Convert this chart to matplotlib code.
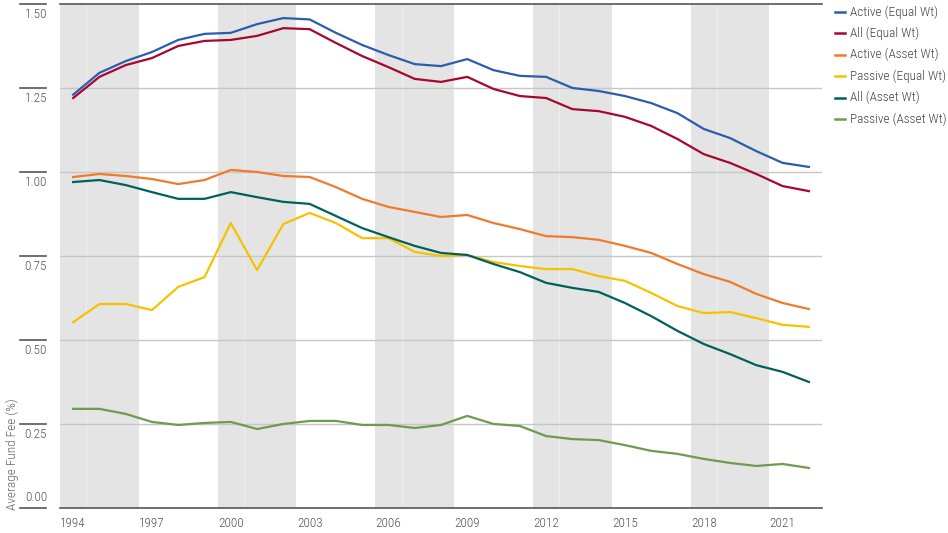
import matplotlib
matplotlib.use("Agg")
import matplotlib.pyplot as plt
from matplotlib.lines import Line2D
from matplotlib.transforms import blended_transform_factory
from matplotlib import font_manager as fm

# pick a condensed font if one is available
FONT = {"family": "Roboto", "stretch": "normal"}
SCALE = 0.9
for fam in ["Roboto Condensed", "Liberation Sans Narrow", "Open Sans Condensed", "DejaVu Sans"]:
    try:
        p = fm.findfont(fm.FontProperties(family=fam, stretch="condensed"), fallback_to_default=False)
        if "ondensed" in p or "Narrow" in p:
            FONT = {"family": fam, "stretch": "condensed"}
            SCALE = 1.0
            break
    except Exception:
        pass

plt.rcParams['font.family'] = [FONT["family"], 'DejaVu Sans']
plt.rcParams['font.stretch'] = FONT["stretch"]
plt.rcParams['font.weight'] = 'light'

years = list(range(1994, 2023))

active_equal = [1.231, 1.296, 1.331, 1.358, 1.394, 1.412, 1.415, 1.441, 1.459, 1.455,
                1.415, 1.379, 1.349, 1.322, 1.316, 1.337, 1.304, 1.287, 1.284, 1.251,
                1.242, 1.227, 1.206, 1.176, 1.129, 1.102, 1.063, 1.028, 1.016]
all_equal = [1.221, 1.284, 1.319, 1.340, 1.376, 1.391, 1.394, 1.406, 1.429, 1.426,
             1.385, 1.346, 1.313, 1.278, 1.269, 1.284, 1.248, 1.227, 1.221, 1.188,
             1.182, 1.165, 1.138, 1.099, 1.054, 1.028, 0.995, 0.959, 0.944]
active_asset = [0.986, 0.995, 0.989, 0.980, 0.965, 0.977, 1.007, 1.001, 0.989, 0.986,
                0.956, 0.921, 0.897, 0.882, 0.867, 0.873, 0.849, 0.831, 0.810, 0.807,
                0.799, 0.781, 0.760, 0.727, 0.697, 0.674, 0.638, 0.611, 0.593]
passive_equal = [0.554, 0.608, 0.608, 0.590, 0.659, 0.688, 0.849, 0.709, 0.846, 0.879,
                 0.849, 0.804, 0.804, 0.763, 0.751, 0.754, 0.733, 0.721, 0.712, 0.712,
                 0.691, 0.677, 0.641, 0.602, 0.581, 0.584, 0.566, 0.546, 0.540]
all_asset = [0.971, 0.977, 0.962, 0.941, 0.921, 0.921, 0.941, 0.926, 0.912, 0.906,
             0.870, 0.834, 0.807, 0.781, 0.760, 0.754, 0.727, 0.703, 0.671, 0.656,
             0.644, 0.611, 0.572, 0.528, 0.489, 0.459, 0.426, 0.406, 0.376]
passive_asset = [0.296, 0.296, 0.281, 0.257, 0.248, 0.254, 0.257, 0.236, 0.251, 0.260,
                 0.260, 0.248, 0.248, 0.239, 0.248, 0.275, 0.251, 0.245, 0.215, 0.206,
                 0.203, 0.188, 0.171, 0.162, 0.147, 0.135, 0.126, 0.132, 0.120]

series_names = ["Active (Equal Wt)", "All (Equal Wt)", "Active (Asset Wt)",
                "Passive (Equal Wt)", "All (Asset Wt)", "Passive (Asset Wt)"]
series_values = [active_equal, all_equal, active_asset, passive_equal, all_asset, passive_asset]
colors = ["#2A5DAA", "#A8062F", "#F07A2C", "#F6C200", "#00615A", "#6E9B4C"]

band_starts = [1994, 2000, 2006, 2012, 2018]   # 3-year shaded periods
y_ticks = [0.0, 0.25, 0.5, 0.75, 1.0, 1.25, 1.5]
y_tick_labels = ["0.00", "0.25", "0.50", "0.75", "1.00", "1.25", "1.50"]
x_ticks = [1994, 1997, 2000, 2003, 2006, 2009, 2012, 2015, 2018, 2021]

W, H = 948, 533
fig = plt.figure(figsize=(W / 100, H / 100), dpi=100)
left, right = 60 / W, 822 / W
bottom, top = (H - 508.3) / H, (H - 4.3) / H
ax = fig.add_axes([left, bottom, right - left, top - bottom])

ax.set_xlim(1993.5, 2022.5)
ax.set_ylim(0, 1.5)

for s in band_starts:
    ax.axvspan(s - 0.5, s + 2.5, color="#E4E4E4", lw=0, zorder=0)
    ax.axvline(s + 0.5, color="#EEEEEE", lw=0.8, zorder=0.5)

for v in y_ticks[1:-1]:
    ax.axhline(v, color="#C6C6C6", lw=1.0, zorder=1)
ax.axhline(1.5, color="#555555", lw=1.2, zorder=1, clip_on=False)
ax.axhline(0.0, color="#555555", lw=1.2, zorder=1, clip_on=False)

for vals, c in zip(series_values, colors):
    ax.plot(years, vals, color=c, lw=1.6, zorder=3, solid_joinstyle="round")

fs = 9.5 * SCALE
for sp in ax.spines.values():
    sp.set_visible(False)
ax.set_yticks([])
ax.set_xticks(x_ticks)
ax.set_xticklabels([str(x) for x in x_ticks], fontsize=fs, color="#555555")
ax.tick_params(axis="x", length=0, pad=6)

# y-axis label stubs and tick labels
trans = blended_transform_factory(fig.transFigure, ax.transData)
for v, lab in zip(y_ticks, y_tick_labels):
    ax.plot([20 / W, 46 / W], [v, v], color="#555555", lw=1.2, transform=trans, clip_on=False)
    if v == 0.0:
        ax.annotate(lab, xy=(47 / W, v), xycoords=trans, xytext=(0, 3), textcoords="offset points",
                    ha="right", va="bottom", fontsize=fs, color="#555555")
    else:
        ax.annotate(lab, xy=(47 / W, v), xycoords=trans, xytext=(0, -3), textcoords="offset points",
                    ha="right", va="top", fontsize=fs, color="#555555")

fig.text(12 / W, (H - 510) / H, "Average Fund Fee (%)", rotation=90, ha="center", va="bottom",
         fontsize=fs, color="#666666")

# legend
for i, (name, c) in enumerate(zip(series_names, colors)):
    yc = (H - (12 + i * 21.4)) / H
    fig.add_artist(Line2D([835 / W, 845 / W], [yc, yc], color=c, lw=1.8, transform=fig.transFigure))
    fig.text(850 / W, yc, name, ha="left", va="center", fontsize=fs, color="#444444")

fig.savefig("out.png", dpi=100)
